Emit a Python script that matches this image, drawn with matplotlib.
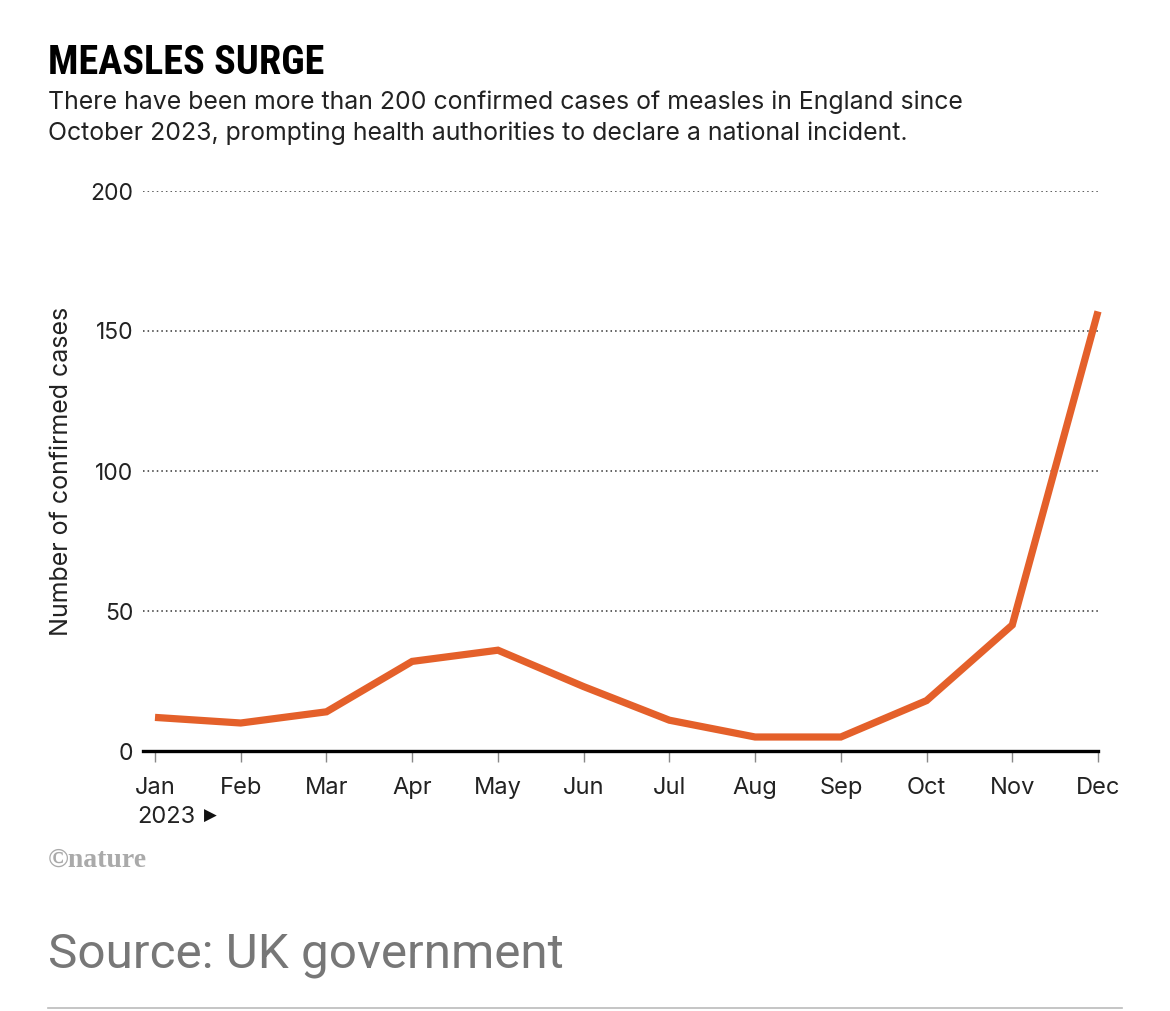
import matplotlib
matplotlib.use("Agg")
import matplotlib.pyplot as plt
from matplotlib import font_manager

months = ["Jan", "Feb", "Mar", "Apr", "May", "Jun", "Jul", "Aug", "Sep", "Oct", "Nov", "Dec"]
cases = [12, 10, 14, 32, 36, 23, 11, 5, 5, 18, 45, 157]
y_ticks = [0, 50, 100, 150, 200]

ttf = font_manager.fontManager.ttflist
names = {f.name for f in ttf}
cond = [f for f in ttf if str(f.stretch) in ("condensed", "semi-condensed", "extra-condensed", "ultra-condensed")
        and (f.weight in ("bold", "heavy", "black", "extra bold") or (isinstance(f.weight, int) and f.weight >= 600))]
cond.sort(key=lambda f: {"ultra-condensed": 0, "extra-condensed": 1, "condensed": 2, "semi-condensed": 3}.get(str(f.stretch), 4))
TS = 29
title_kw = dict(fontfamily="DejaVu Sans", fontweight="bold", fontsize=25)
for pref in ["Liberation Sans Narrow", "Roboto Condensed", "Open Sans Condensed", "Noto Sans Condensed"]:
    if pref in names:
        title_kw = dict(fontfamily=pref, fontweight="bold", fontsize=TS)
        break
else:
    if cond:
        title_kw = dict(fontproperties=font_manager.FontProperties(fname=cond[0].fname, size=TS))

base_font = "Inter" if "Inter" in names else "Roboto"

W, H = 1170, 1011
fig = plt.figure(figsize=(W / 100, H / 100), dpi=100)
fig.patch.set_facecolor("white")

left, right, bottom_px, top_px = 143, 1098, 751, 191
ax = fig.add_axes([left / W, 1 - bottom_px / H, (right - left) / W, (bottom_px - top_px) / H])

x = list(range(len(months)))
ax.plot(x, cases, color="#E4602A", lw=5.2, solid_joinstyle="miter", solid_capstyle="butt", clip_on=False, zorder=3)

for v in y_ticks[1:]:
    ax.axhline(v, color="#333333", lw=1.1, linestyle=(0, (1, 2.0)), zorder=1)

ax.set_xlim(-0.14, 11)
ax.set_ylim(0, 200)
for s in ["top", "right", "left"]:
    ax.spines[s].set_visible(False)
ax.spines["bottom"].set_linewidth(2.4)
ax.spines["bottom"].set_color("black")
ax.spines["bottom"].set_zorder(4)

ax.set_xticks(x)
ax.set_xticklabels(months, fontfamily=base_font, fontsize=17, color="#222222")
ax.tick_params(axis="x", length=8, width=1, color="#888888", pad=11)
ax.set_yticks(y_ticks)
ax.set_yticklabels([str(v) for v in y_ticks], fontfamily=base_font, fontsize=16.5, color="#222222")
ax.tick_params(axis="y", length=0, pad=7)

fig.text(62 / W, 1 - 471 / H, "Number of confirmed cases", rotation=90, ha="center", va="center",
         fontfamily=base_font, fontsize=18, color="#222222")

fig.text(48 / W, 1 - 63 / H, "MEASLES SURGE", ha="left", va="center", color="black", **title_kw)
fig.text(48 / W, 1 - 102 / H, "There have been more than 200 confirmed cases of measles in England since",
         ha="left", va="center", fontfamily=base_font, fontsize=17.9, color="#222222")
fig.text(48 / W, 1 - 133 / H, "October 2023, prompting health authorities to declare a national incident.",
         ha="left", va="center", fontfamily=base_font, fontsize=17.9, color="#222222")

fig.text(137 / W, 1 - 817 / H, "2023", ha="left", va="center", fontfamily=base_font,
         fontsize=17, color="#222222")
fig.text(204 / W, 1 - 816 / H, "\u25B6", ha="left", va="center", fontfamily=["DejaVu Sans"],
         fontsize=12, color="#111111")
fig.text(48 / W, 1 - 860 / H, "\u00a9nature", ha="left", va="center", fontfamily="Liberation Serif",
         fontweight="bold", fontsize=20, color="#AAAAAA")

fig.text(48 / W, 1 - 955 / H, "Source: UK government", ha="left", va="center", fontfamily="Roboto",
         fontsize=35.6, color="#777777")
fig.add_artist(plt.Line2D([48 / W, 1122 / W], [1 - 1008 / H, 1 - 1008 / H], color="#BBBBBB", lw=1.2))

fig.savefig("out.png", dpi=100, facecolor="white")
